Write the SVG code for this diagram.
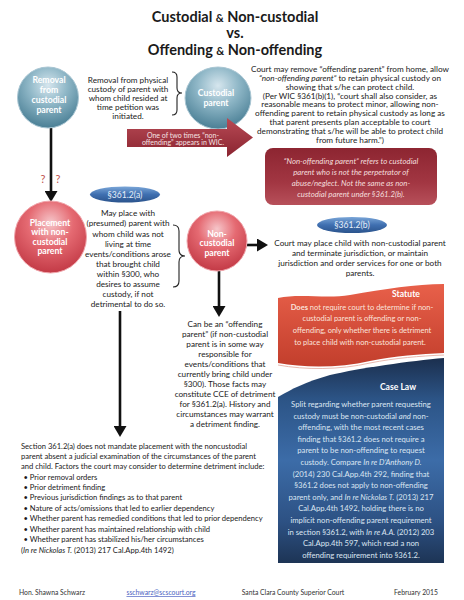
<svg xmlns="http://www.w3.org/2000/svg" width="464" height="600" viewBox="0 0 464 600">
<defs>
<style>
text { font-family: Lato, "Open Sans", "Liberation Sans", sans-serif; }
.t { font-size: 8.2px; fill: #1a1a1a; text-anchor: middle; }
.tl { font-size: 7.6px; fill: #1a1a1a; }
.title { font-size: 14.5px; font-weight: bold; fill: #1a1a1a; text-anchor: middle; }
.amp { font-size: 11px; }
.cw { font-size: 8.7px; font-weight: bold; fill: #ffffff; text-anchor: middle; }
.sec { font-size: 8.6px; fill: #e6eef8; text-anchor: middle; }
.boxi { font-size: 7.8px; font-style: italic; fill: #f4dedd; text-anchor: middle; }
.arrt { font-size: 7px; fill: #f6e4e4; text-anchor: middle; }
.st { font-size: 7.5px; fill: #fbe3dc; text-anchor: middle; }
.cl { font-size: 7.7px; fill: #dce6f2; text-anchor: middle; }
.lab { font-size: 8.6px; font-weight: bold; fill: #ffffff; text-anchor: middle; }
.ft { font-size: 6.8px; fill: #333333; text-anchor: middle; }
.q { font-size: 11px; fill: #c0504d; text-anchor: middle; }
.conn { stroke: #111111; stroke-width: 2.6; fill: none; }
.brace { stroke: #222222; stroke-width: 1.1; fill: none; }
</style>
<radialGradient id="gTeal" cx="50%" cy="30%" r="70%">
<stop offset="0" stop-color="#d6e6ee"/>
<stop offset="0.45" stop-color="#8fb7c7"/>
<stop offset="1" stop-color="#4a7f95"/>
</radialGradient>
<radialGradient id="gPink" cx="50%" cy="30%" r="70%">
<stop offset="0" stop-color="#f6c6ca"/>
<stop offset="0.45" stop-color="#e56a72"/>
<stop offset="1" stop-color="#c33a46"/>
</radialGradient>
<linearGradient id="gRedArrow" x1="0" y1="0" x2="0" y2="1">
<stop offset="0" stop-color="#b84a55"/>
<stop offset="1" stop-color="#8a2430"/>
</linearGradient>
<linearGradient id="gRedBox" x1="0" y1="0" x2="0" y2="1">
<stop offset="0" stop-color="#8d2531"/>
<stop offset="0.6" stop-color="#a23642"/>
<stop offset="1" stop-color="#b7505a"/>
</linearGradient>
<linearGradient id="gBlueEl" x1="0" y1="0" x2="0" y2="1">
<stop offset="0" stop-color="#7aa6d8"/>
<stop offset="0.5" stop-color="#3f6fb0"/>
<stop offset="1" stop-color="#2b548d"/>
</linearGradient>
<linearGradient id="gStat" x1="0" y1="0" x2="0" y2="1">
<stop offset="0" stop-color="#e8604a"/>
<stop offset="1" stop-color="#c23e2c"/>
</linearGradient>
<linearGradient id="gCase" x1="0" y1="0" x2="0" y2="1">
<stop offset="0" stop-color="#1b2f4e"/>
<stop offset="0.2" stop-color="#2c5486"/>
<stop offset="0.5" stop-color="#3c6ca8"/>
<stop offset="0.8" stop-color="#2d5183"/>
<stop offset="1" stop-color="#1d3455"/>
</linearGradient>
<marker id="ah" markerUnits="userSpaceOnUse" markerWidth="12" markerHeight="13" refX="2" refY="6.5" orient="auto">
<path d="M0,0 L11,6.5 L0,13 z" fill="#111111"/>
</marker>
</defs>

<rect width="464" height="600" fill="#ffffff"/>

<g id="title">
<text class="title" x="235" y="22">Custodial <tspan class="amp">&amp;</tspan> Non-custodial</text>
<text class="title" x="235" y="38">vs.</text>
<text class="title" x="235" y="55">Offending <tspan class="amp">&amp;</tspan> Non-offending</text>
</g>

<g id="connectors">
<line class="conn" x1="51" y1="128" x2="51" y2="193" marker-end="url(#ah)"/>
<line class="conn" x1="219" y1="271" x2="219" y2="308" marker-end="url(#ah)"/>
<line class="conn" x1="120" y1="311" x2="120" y2="428" marker-end="url(#ah)"/>
<line class="conn" x1="247" y1="245" x2="259" y2="245" marker-end="url(#ah)"/>
<path class="brace" d="M172,72 Q177,72 177,77 L177,88 Q177,93 182,93 Q177,93 177,98 L177,110 Q177,115 172,115"/>
<path class="brace" d="M173,225 Q179,225 179,231 L179,250 Q179,256 185,256 Q179,256 179,262 L179,281 Q179,287 173,287"/>
</g>

<g id="n-removal">
<circle cx="48" cy="97.5" r="30.5" fill="url(#gTeal)" stroke="#a9c6d3" stroke-width="1"/>
<text class="cw" x="49" y="83.3">Removal</text>
<text class="cw" x="49" y="93.1">from</text>
<text class="cw" x="49" y="102.9">custodial</text>
<text class="cw" x="49" y="112.7">parent</text>
</g>

<g id="n-removal-text">
<text class="t" x="128" y="83">Removal from physical</text>
<text class="t" x="128" y="92">custody of parent with</text>
<text class="t" x="128" y="101">whom child resided at</text>
<text class="t" x="128" y="110">time petition was</text>
<text class="t" x="128" y="118.5">initiated.</text>
</g>

<g id="n-custodial">
<ellipse cx="218" cy="98" rx="33" ry="31" fill="url(#gTeal)" stroke="#a9c6d3" stroke-width="1"/>
<text class="cw" x="216" y="95.5">Custodial</text>
<text class="cw" x="216" y="105.5">parent</text>
</g>

<g id="n-wic-arrow">
<path d="M127,129 L227,129 L227,118 L253,137.5 L227,157 L227,147 L127,147 Z" fill="url(#gRedArrow)"/>
<text class="arrt" x="183" y="137.5">One of two times “non-</text>
<text class="arrt" x="183" y="144.5">offending” appears in WIC.</text>
</g>

<g id="n-court-remove">
<text class="t" x="350" y="72">Court may remove “offending parent” from home, allow</text>
<text class="t" x="350" y="81"><tspan font-style="italic">“non-offending parent”</tspan> to retain physical custody on</text>
<text class="t" x="350" y="89.5">showing that s/he can protect child.</text>
<text class="t" x="350" y="98.5">(Per WIC §361(b)(1), “court shall also consider, as</text>
<text class="t" x="350" y="107.3">reasonable means to protect minor, allowing  non-</text>
<text class="t" x="350" y="116.2">offending parent to retain physical custody as long as</text>
<text class="t" x="350" y="125.1">that parent presents plan acceptable to court</text>
<text class="t" x="350" y="134">demonstrating that s/he will be able to protect child</text>
<text class="t" x="350" y="143">from future harm.”)</text>
</g>

<g id="n-nonoff-box">
<rect x="265" y="148" width="172" height="57" rx="8" fill="url(#gRedBox)"/>
<text class="boxi" x="351" y="164">“Non-offending parent” refers to custodial</text>
<text class="boxi" x="351" y="175">parent who is not the perpetrator of</text>
<text class="boxi" x="351" y="186">abuse/neglect.  Not the same as non-</text>
<text class="boxi" x="351" y="197">custodial parent under §361.2(b).</text>
</g>

<g id="n-qq">
<text class="q" x="43" y="183">?</text>
<text class="q" x="58" y="183">?</text>
</g>

<g id="n-sec-a">
<ellipse cx="125" cy="194.5" rx="35" ry="8" fill="url(#gBlueEl)"/>
<text class="sec" x="125" y="197.5">§361.2(a)</text>
</g>

<g id="n-sec-b">
<ellipse cx="352" cy="225" rx="35" ry="8" fill="url(#gBlueEl)"/>
<text class="sec" x="352" y="228">§361.2(b)</text>
</g>

<g id="n-placement">
<circle cx="50.5" cy="237" r="36" fill="url(#gPink)" stroke="#f0a5ab" stroke-width="1"/>
<text class="cw" x="50" y="225.6">Placement</text>
<text class="cw" x="50" y="235.2">with non-</text>
<text class="cw" x="50" y="244.8">custodial</text>
<text class="cw" x="50" y="254.4">parent</text>
</g>

<g id="n-may-place">
<text class="t" x="128" y="215.5">May place with</text>
<text class="t" x="128" y="226">(presumed) parent with</text>
<text class="t" x="128" y="236.5">whom child was not</text>
<text class="t" x="128" y="246.5">living at time</text>
<text class="t" x="128" y="257">events/conditions arose</text>
<text class="t" x="128" y="267">that brought child</text>
<text class="t" x="128" y="277">within §300, who</text>
<text class="t" x="128" y="287">desires to assume</text>
<text class="t" x="128" y="297">custody, if not</text>
<text class="t" x="128" y="307">detrimental to do so.</text>
</g>

<g id="n-noncustodial">
<circle cx="217" cy="241" r="30" fill="url(#gPink)" stroke="#f0a5ab" stroke-width="1"/>
<text class="cw" x="217" y="236.5">Non-</text>
<text class="cw" x="217" y="246">custodial</text>
<text class="cw" x="217" y="255.5">parent</text>
</g>

<g id="n-court-place">
<text class="t" x="360" y="246">Court may place child with non-custodial parent</text>
<text class="t" x="360" y="256">and terminate jurisdiction, or maintain</text>
<text class="t" x="360" y="266">jurisdiction and order services for one or both</text>
<text class="t" x="360" y="276">parents.</text>
</g>

<g id="n-can-be">
<text class="t" x="225" y="327">Can be an “offending</text>
<text class="t" x="225" y="337">parent” (if non-custodial</text>
<text class="t" x="225" y="347">parent is in some way</text>
<text class="t" x="225" y="357">responsible for</text>
<text class="t" x="225" y="367">events/conditions that</text>
<text class="t" x="225" y="377">currently bring child under</text>
<text class="t" x="225" y="387">§300).  Those facts may</text>
<text class="t" x="225" y="397">constitute CCE of detriment</text>
<text class="t" x="225" y="407">for §361.2(a).  History and</text>
<text class="t" x="225" y="417">circumstances may warrant</text>
<text class="t" x="225" y="427">a detriment finding.</text>
</g>

<g id="n-statute">
<path d="M278,298 C300,293 325,299 350,295 C385,289 415,284 444,284 L444,353 C420,354 395,356 370,361 C340,368 305,368 278,363 Z" fill="url(#gStat)"/>
<path d="M278,365 C305,370 340,370 370,363 C395,358 420,356 444,355" stroke="#e8b8ae" stroke-width="1" fill="none"/>
<text class="lab" x="406" y="297">Statute</text>
<text class="st" x="362" y="309.5"><tspan font-weight="bold">Does</tspan> not require court to determine if non-</text>
<text class="st" x="362" y="321.3">custodial parent is offending or non-</text>
<text class="st" x="362" y="333.1">offending, only whether there is detriment</text>
<text class="st" x="360" y="345">to place child with non-custodial parent.</text>
</g>

<g id="n-caselaw">
<path d="M278,397 C292,389 305,382 330,375 C360,368 410,361 444,358 L444,563 L278,563 Z" fill="url(#gCase)"/>
<text class="lab" x="398" y="390">Case Law</text>
<text class="cl" x="361" y="407">Split regarding whether parent requesting</text>
<text class="cl" x="361" y="418.6">custody must be non-custodial <tspan font-style="italic">and</tspan> non-</text>
<text class="cl" x="361" y="430.2">offending, with the most recent cases</text>
<text class="cl" x="361" y="441.8">finding that §361.2 does not require a</text>
<text class="cl" x="361" y="453.4">parent to be non-offending to request</text>
<text class="cl" x="361" y="465">custody.  Compare <tspan font-style="italic">In re D’Anthony D.</tspan></text>
<text class="cl" x="361" y="476.6">(2014) 230 Cal.App.4th 292, finding that</text>
<text class="cl" x="361" y="488.2">§361.2 does not apply to non-offending</text>
<text class="cl" x="361" y="499.8">parent only, and <tspan font-style="italic">In re Nickolas T.</tspan> (2013) 217</text>
<text class="cl" x="361" y="511.4">Cal.App.4th 1492, holding there is no</text>
<text class="cl" x="361" y="523">implicit non-offending parent requirement</text>
<text class="cl" x="361" y="534.6">in section §361.2, with <tspan font-style="italic">In re A.A.</tspan> (2012) 203</text>
<text class="cl" x="361" y="546.2">Cal.App.4th 597, which read a non</text>
<text class="cl" x="361" y="557.8">offending requirement into §361.2.</text>
</g>

<g id="n-factors">
<text class="tl" x="21" y="448.5">Section 361.2(a) does not mandate placement with the noncustodial</text>
<text class="tl" x="21" y="459">parent absent a judicial examination of the circumstances of the parent</text>
<text class="tl" x="21" y="469">and child.  Factors the court may consider to determine detriment include:</text>
<text class="tl" x="23.5" y="479.5">• Prior removal orders</text>
<text class="tl" x="23.5" y="489.5">• Prior detriment finding</text>
<text class="tl" x="23.5" y="499.5">• Previous jurisdiction findings as to that parent</text>
<text class="tl" x="23.5" y="510.5">• Nature of acts/omissions that led to earlier dependency</text>
<text class="tl" x="23.5" y="521">• Whether parent has remedied conditions that led to prior dependency</text>
<text class="tl" x="23.5" y="531.5">• Whether parent has maintained relationship with child</text>
<text class="tl" x="23.5" y="542">• Whether parent has stabilized his/her circumstances</text>
<text class="tl" x="21" y="552.5">(<tspan font-style="italic">In re Nickolas T.</tspan> (2013) 217 Cal.App.4th 1492)</text>
</g>

<g id="footer">
<text class="ft" x="52" y="595">Hon. Shawna Schwarz</text>
<text class="ft" x="161" y="595" text-decoration="underline" style="fill:#4a5fc1">sschwarz@scscourt.org</text>
<text class="ft" x="293" y="595">Santa Clara County Superior Court</text>
<text class="ft" x="416" y="595">February 2015</text>
</g>
</svg>
